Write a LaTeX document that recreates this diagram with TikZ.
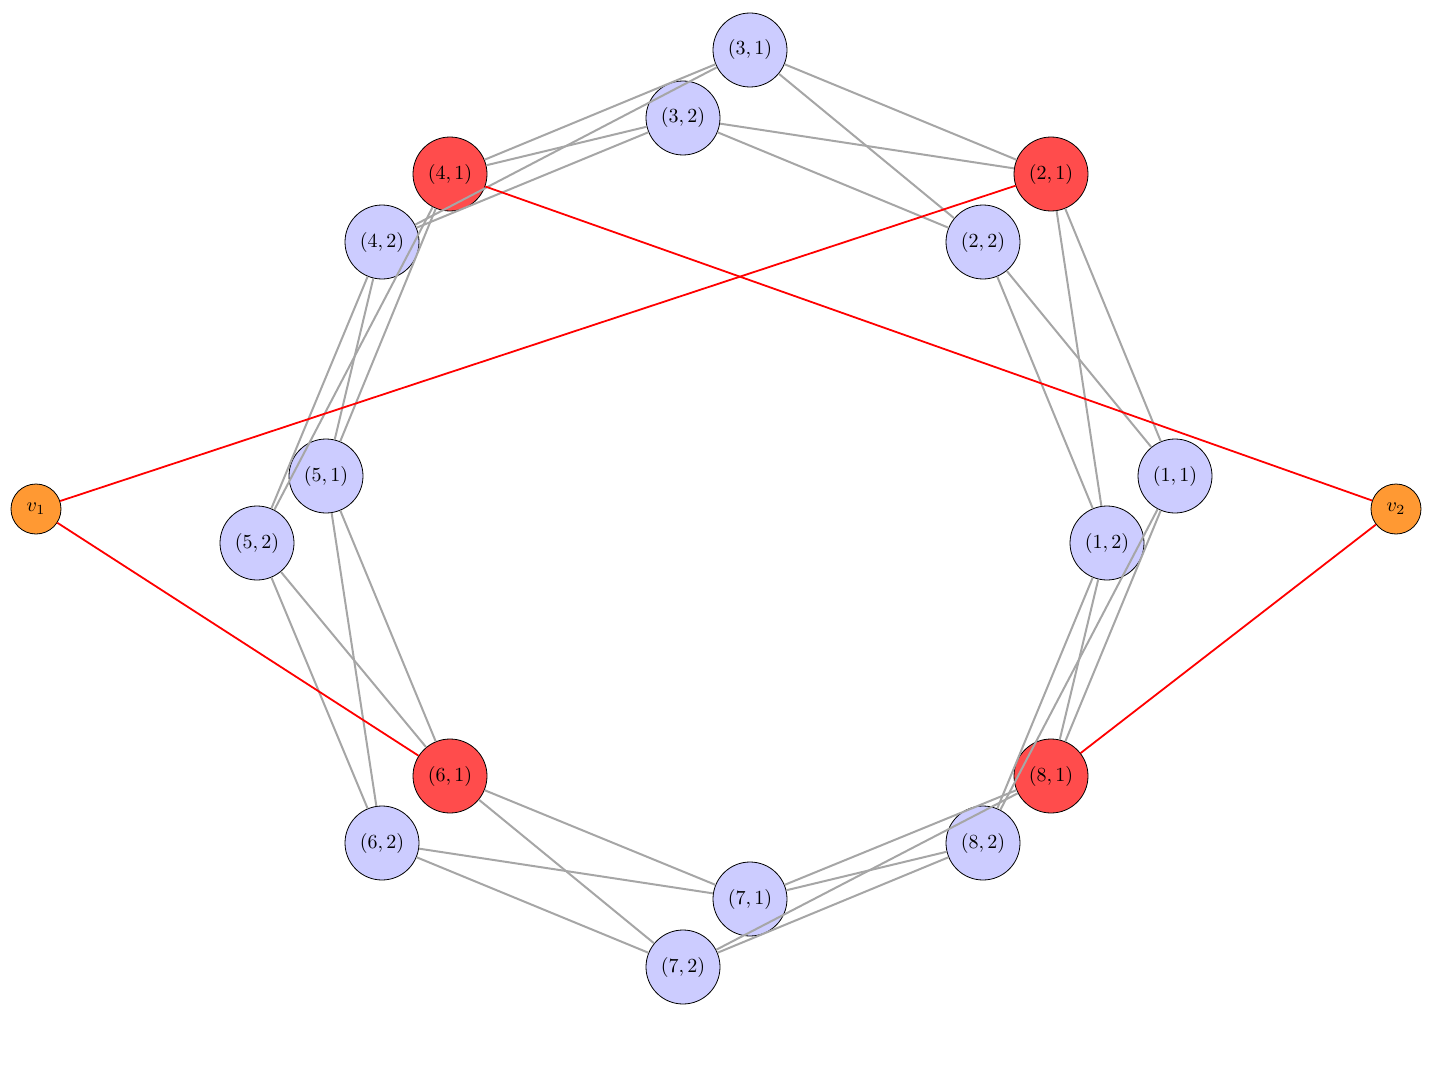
\documentclass[tikz,border=0pt]{standalone}
\begin{document}
\begin{tikzpicture}[x=0.5pt,y=-0.5pt,
  vb/.style={circle,draw,fill=blue!20,minimum size=37pt,inner sep=0pt},
  vr/.style={circle,draw,fill=red!70,minimum size=37pt,inner sep=0pt},
  vo/.style={circle,draw,fill=orange!80,minimum size=25pt,inner sep=0pt},
  ge/.style={draw=black!35,line width=1pt},
  re/.style={draw=red,line width=0.9pt}]
\useasboundingbox (0,0) rectangle (1435,1065);
\node[vb] (a31) at (750,50) {$(3,1)$};
\node[vb] (a32) at (683,118) {$(3,2)$};
\node[vr] (a41) at (450,174) {$(4,1)$};
\node[vr] (a21) at (1051,174) {$(2,1)$};
\node[vb] (a42) at (382,242) {$(4,2)$};
\node[vb] (a22) at (983,242) {$(2,2)$};
\node[vb] (a51) at (326,476) {$(5,1)$};
\node[vb] (a11) at (1175,476) {$(1,1)$};
\node[vb] (a52) at (257,543) {$(5,2)$};
\node[vb] (a12) at (1107,543) {$(1,2)$};
\node[vr] (a61) at (450,776) {$(6,1)$};
\node[vr] (a81) at (1051,776) {$(8,1)$};
\node[vb] (a62) at (382,843) {$(6,2)$};
\node[vb] (a82) at (983,843) {$(8,2)$};
\node[vb] (a71) at (750,899) {$(7,1)$};
\node[vb] (a72) at (683,967) {$(7,2)$};
\node[vo] (v1) at (36,509) {$v_1$};
\node[vo] (v2) at (1396,509) {$v_2$};
\begin{scope}[on background layer/.try]
\foreach \i/\j in {1/2,2/3,3/4,4/5,5/6,6/7,7/8,8/1}
  \foreach \p in {1,2}
    \foreach \q in {1,2}
      \draw[ge] (a\i\p) -- (a\j\q);
\end{scope}
\draw[re] (v1) -- (a21);
\draw[re] (v1) -- (a61);
\draw[re] (v2) -- (a41);
\draw[re] (v2) -- (a81);
\end{tikzpicture}
\end{document}
